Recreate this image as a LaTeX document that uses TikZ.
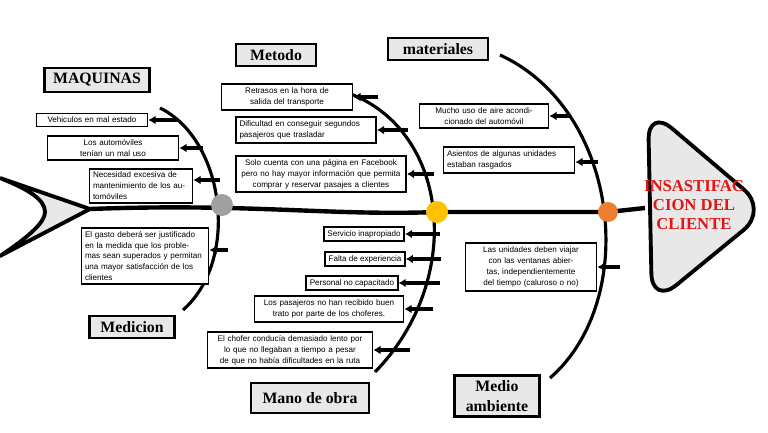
\documentclass[tikz,border=0pt]{standalone}
\usepackage{xcolor}
\usepackage{fontspec}
\setmainfont{Liberation Serif}
\setsansfont{Liberation Sans}
\usetikzlibrary{arrows.meta}
\definecolor{dotgray}{RGB}{160,160,160}
\definecolor{dotyellow}{RGB}{255,192,0}
\definecolor{dotorange}{RGB}{237,125,49}
\definecolor{boxgray}{RGB}{232,232,232}
\definecolor{headred}{RGB}{230,20,20}
\newdimen\pxu \pxu=0.02cm
\tikzset{
  category/.style={draw, line width=1.3pt, fill=boxgray, align=center, font=\bfseries\fontsize{9}{10}\selectfont, inner sep=3pt},
  cause/.style={draw, line width=1.1pt, fill=white, align=center, font=\sffamily\fontsize{4.6}{6.2}\selectfont, inner sep=2pt},
  cause arrow/.style={-{Latex[length=4pt,width=5pt]}, line width=1.8pt},
  rib/.style={line width=1.8pt},
  joint/.style={circle, minimum size=22\pxu, inner sep=0pt}
}
\begin{document}
\begin{tikzpicture}[x=0.02cm, y=-0.02cm]
\useasboundingbox (0,0) rectangle (768,433);

% Tail of the fish
\draw[line width=2.2pt, fill=boxgray, line join=round] (0,178) -- (90,209) -- (0,256) .. controls (30,236) and (45,222) .. (45,212) .. controls (45,200) and (30,190) .. (0,178);

% Spine
\draw[line width=2.5pt] (90,209) .. controls (250,203) and (330,216) .. (437,212) -- (608,212) -- (645,208);

% Head
\draw[line width=2.2pt, fill=boxgray, rounded corners=18pt] (648,108) -- (768,210) -- (652,305) -- cycle;
\node[text=headred, align=center, font=\bfseries\fontsize{9.5}{11}\selectfont] (effect) at (694,205) {INSASTIFAC\\CION DEL\\CLIENTE};

% Ribs
\draw[rib] (160,108) .. controls (225,140) and (240,260) .. (183,310);
\draw[rib] (348,93) .. controls (450,130) and (465,280) .. (375,372);
\draw[rib] (500,55) .. controls (620,110) and (640,300) .. (550,378);

% Joints
\node[joint, fill=dotgray] (j1) at (222,205) {};
\node[joint, fill=dotyellow] (j2) at (437,212) {};
\node[joint, fill=dotorange, minimum size=20\pxu] (j3) at (608,212) {};

% Categories
\node[category, minimum width=105\pxu] (maquinas) at (97,80) {MAQUINAS};
\node[category, minimum width=85\pxu] (medicion) at (132,327) {Medicion};
\node[category, minimum width=80\pxu] (metodo) at (276,55) {Metodo};
\node[category, minimum width=100\pxu] (materiales) at (438,49) {materiales};
\node[category, minimum width=118\pxu, minimum height=30\pxu] (manoobra) at (310,398) {Mano de obra};
\node[category, minimum width=85\pxu, font=\bfseries\fontsize{9}{11}\selectfont] (medio) at (497,396) {Medio\\ambiente};

% Causes - maquinas
\node[cause, text width=104\pxu] (c1) at (92,120) {Vehiculos en mal estado};
\node[cause, text width=124\pxu] (c2) at (113,148) {Los automóviles tenían un mal uso};
\node[cause, text width=96\pxu, align=left] (c3) at (141,186) {Necesidad excesiva de mantenimiento de los automóviles};
% Causes - medicion
\node[cause, text width=120\pxu, align=left] (c4) at (145,256) {El gasto deberá ser justificado en la medida que los problemas sean superados y permitan una mayor satisfacción de los clientes};
% Causes - metodo
\node[cause, text width=124\pxu] (c5) at (287,97) {Retrasos en la hora de salida del transporte};
\node[cause, text width=133\pxu, align=left] (c6) at (306,130) {Dificultad en conseguir segundos pasajeros que trasladar};
\node[cause, text width=163\pxu] (c7) at (321,174) {Solo cuenta con una página en Facebook pero no hay mayor información que permita comprar y reservar pasajes a clientes};
% Causes - mano de obra
\node[cause] (c8) at (364,234) {Servicio inapropiado};
\node[cause] (c9) at (365,259) {Falta de experiencia};
\node[cause] (c10) at (352,283) {Personal no capacitado};
\node[cause, text width=142\pxu] (c11) at (329,309) {Los pasajeros no han recibido buen trato por parte de los choferes.};
\node[cause, text width=158\pxu] (c12) at (290,350) {El chofer conducía demasiado lento por lo que no llegaban a tiempo a pesar de que no había dificultades en la ruta};
% Causes - materiales
\node[cause, text width=122\pxu] (c13) at (484,116) {Mucho uso de aire acondicionado del automóvil};
\node[cause, text width=124\pxu, align=left] (c14) at (509,160) {Asientos de algunas unidades estaban rasgados};
% Causes - medio ambiente
\node[cause, text width=124\pxu] (c15) at (531,267) {Las unidades deben viajar con las ventanas abiertas, independientemente del tiempo (caluroso o no)};

% Rib points
\coordinate (r1) at (178,120);
\coordinate (r2) at (203,148);
\coordinate (r3) at (220,180);
\coordinate (r4) at (228,250);
\coordinate (r5) at (378,97);
\coordinate (r6) at (408,130);
\coordinate (r7) at (434,174);
\coordinate (r8) at (440,234);
\coordinate (r9) at (441,259);
\coordinate (r10) at (440,283);
\coordinate (r11) at (433,309);
\coordinate (r12) at (410,350);
\coordinate (r13) at (570,116);
\coordinate (r14) at (598,162);
\coordinate (r15) at (620,267);

% Arrows
\foreach \i in {1,...,15}
  \draw[cause arrow] (r\i) -- (r\i -| c\i.east);
\end{tikzpicture}
\end{document}
